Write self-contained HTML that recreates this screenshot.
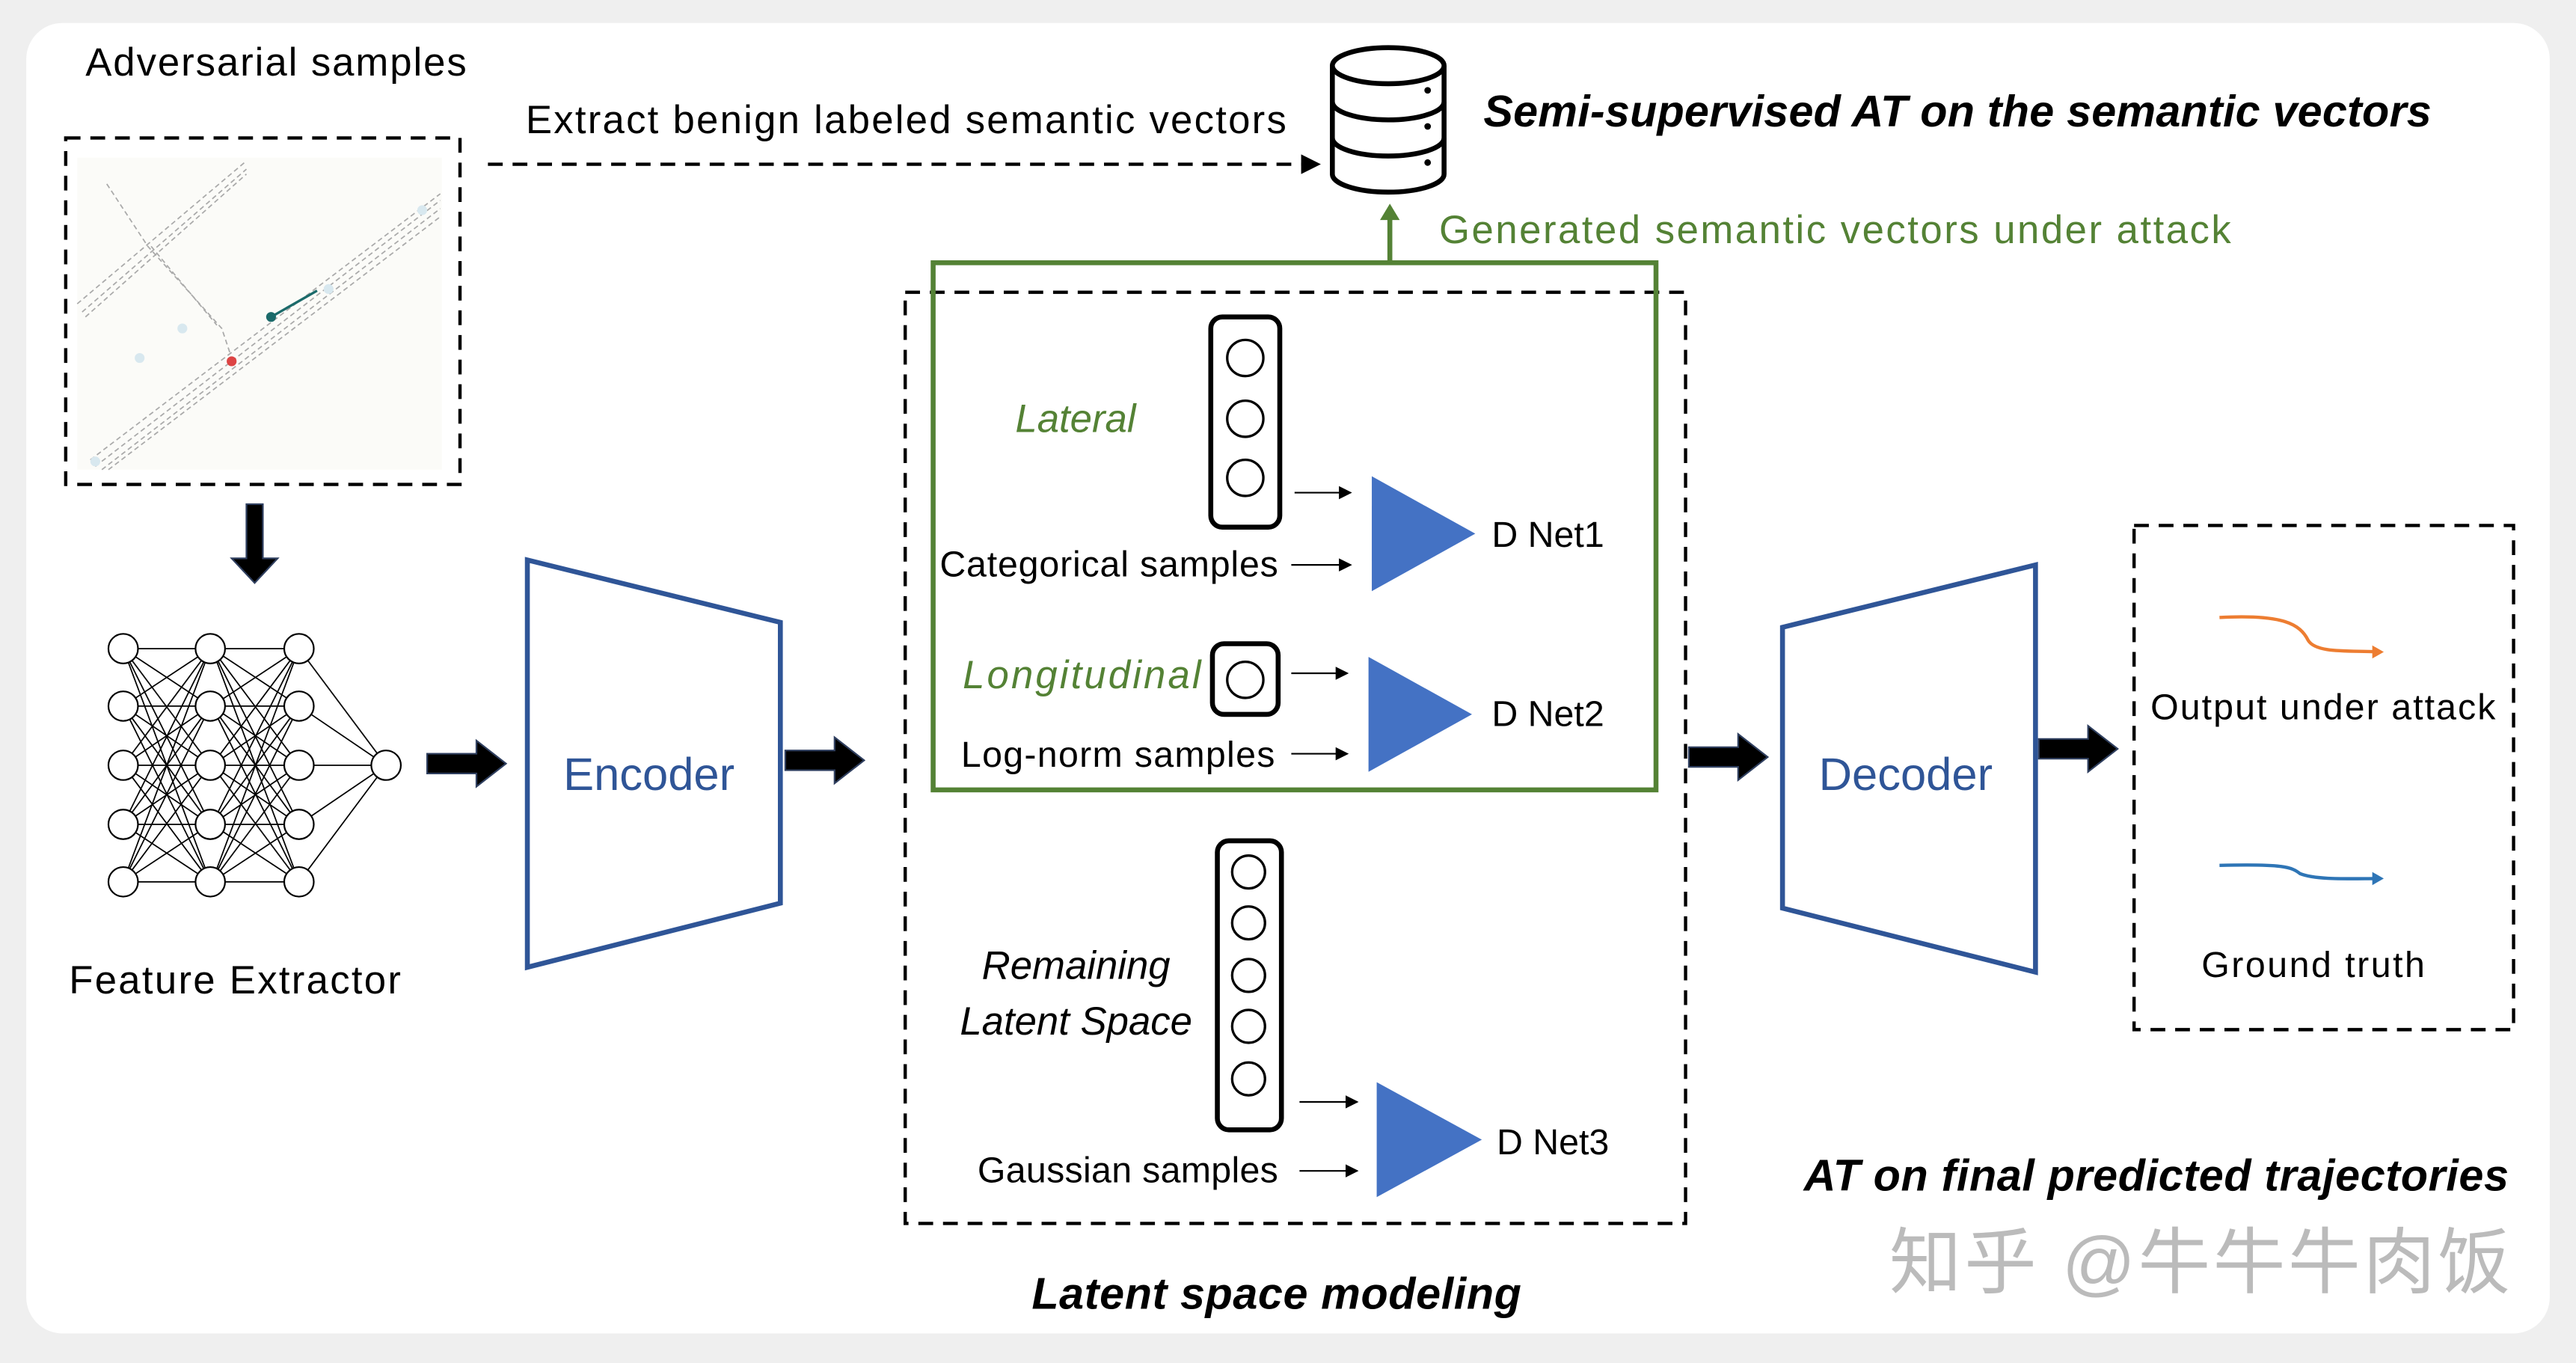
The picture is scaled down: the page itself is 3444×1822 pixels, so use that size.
<!DOCTYPE html>
<html><head><meta charset="utf-8"><style>
html,body{margin:0;padding:0;background:#efefef;}
svg{display:block;}
text{font-family:"Liberation Sans","Noto Sans CJK SC",sans-serif;}
</style></head><body>
<svg width="3444" height="1822" viewBox="0 0 1568 830" preserveAspectRatio="none" xmlns="http://www.w3.org/2000/svg">
<defs>
<marker id="ah" markerWidth="8" markerHeight="8" refX="7" refY="4" orient="auto" markerUnits="userSpaceOnUse"><path d="M0,0 L8,4 L0,8 Z" fill="#000"/></marker>
<marker id="ahb" markerWidth="12" markerHeight="12" refX="11" refY="6" orient="auto" markerUnits="userSpaceOnUse"><path d="M0,0 L12,6 L0,12 Z" fill="#000"/></marker>
</defs>
<rect x="0" y="0" width="1568" height="830" fill="#efefef"/>
<rect x="16" y="14" width="1536" height="798" rx="22" fill="#fff"/>

<text x="52" y="46" font-size="24" textLength="232">Adversarial samples</text>
<rect x="40" y="84" width="240" height="211" fill="none" stroke="#000" stroke-width="2" stroke-dasharray="9,6"/>
<rect x="47" y="96" width="222" height="190" fill="#fbfbf8"/>
<g stroke="#aaa" stroke-width="0.8" fill="none" stroke-dasharray="3,2">
<path d="M47,185 L150,98"/><path d="M50,190 L150,103"/><path d="M52,193 L150,106"/>
<path d="M55,280 L268,118"/><path d="M58,284 L268,122"/><path d="M62,286 L268,127"/><path d="M66,286 L268,132"/>
<path d="M65,112 L90,150 L135,200 L140,215"/><path d="M92,150 L132,198"/>
</g>
<line x1="165" y1="193" x2="193" y2="177" stroke="#1b6a6a" stroke-width="1.5"/>
<circle cx="165" cy="193" r="3" fill="#1b6a6a"/>
<circle cx="141" cy="220" r="3" fill="#d44"/>
<g fill="#d8e8ef"><circle cx="85" cy="218" r="3"/><circle cx="111" cy="200" r="3"/><circle cx="200" cy="176" r="3"/><circle cx="257" cy="128" r="3"/><circle cx="58" cy="281" r="3"/></g>

<path d="M150,307 L160,307 L160,340 L169,340 L155,355 L141,340 L150,340 Z" fill="#000" stroke="#2f3f5f"/>

<g stroke="#000" stroke-width="0.8">
<g id="c1">
<line x1="75" y1="395" x2="128" y2="395"/><line x1="75" y1="395" x2="128" y2="430"/><line x1="75" y1="395" x2="128" y2="466"/><line x1="75" y1="395" x2="128" y2="502"/><line x1="75" y1="395" x2="128" y2="537"/>
<line x1="75" y1="430" x2="128" y2="395"/><line x1="75" y1="430" x2="128" y2="430"/><line x1="75" y1="430" x2="128" y2="466"/><line x1="75" y1="430" x2="128" y2="502"/><line x1="75" y1="430" x2="128" y2="537"/>
<line x1="75" y1="466" x2="128" y2="395"/><line x1="75" y1="466" x2="128" y2="430"/><line x1="75" y1="466" x2="128" y2="466"/><line x1="75" y1="466" x2="128" y2="502"/><line x1="75" y1="466" x2="128" y2="537"/>
<line x1="75" y1="502" x2="128" y2="395"/><line x1="75" y1="502" x2="128" y2="430"/><line x1="75" y1="502" x2="128" y2="466"/><line x1="75" y1="502" x2="128" y2="502"/><line x1="75" y1="502" x2="128" y2="537"/>
<line x1="75" y1="537" x2="128" y2="395"/><line x1="75" y1="537" x2="128" y2="430"/><line x1="75" y1="537" x2="128" y2="466"/><line x1="75" y1="537" x2="128" y2="502"/><line x1="75" y1="537" x2="128" y2="537"/>
</g>
<use href="#c1" transform="translate(54,0)"/>
<line x1="182" y1="395" x2="235" y2="466"/><line x1="182" y1="430" x2="235" y2="466"/><line x1="182" y1="466" x2="235" y2="466"/><line x1="182" y1="502" x2="235" y2="466"/><line x1="182" y1="537" x2="235" y2="466"/>
</g>
<g fill="#fff" stroke="#000" stroke-width="1">
<circle cx="75" cy="395" r="9"/><circle cx="75" cy="430" r="9"/><circle cx="75" cy="466" r="9"/><circle cx="75" cy="502" r="9"/><circle cx="75" cy="537" r="9"/>
<circle cx="128" cy="395" r="9"/><circle cx="128" cy="430" r="9"/><circle cx="128" cy="466" r="9"/><circle cx="128" cy="502" r="9"/><circle cx="128" cy="537" r="9"/>
<circle cx="182" cy="395" r="9"/><circle cx="182" cy="430" r="9"/><circle cx="182" cy="466" r="9"/><circle cx="182" cy="502" r="9"/><circle cx="182" cy="537" r="9"/>
<circle cx="235" cy="466" r="9"/>
</g>
<text x="42" y="605" font-size="24" textLength="202">Feature Extractor</text>

<g fill="#000" stroke="#2f3f5f">
<path d="M260,459 L290,459 L290,451 L308,465 L290,479 L290,471 L260,471 Z"/>
<path d="M478,457 L508,457 L508,449 L526,463 L508,477 L508,469 L478,469 Z"/>
<path d="M1028,455 L1058,455 L1058,447 L1076,461 L1058,475 L1058,467 L1028,467 Z"/>
<path d="M1241,450 L1271,450 L1271,442 L1289,456 L1271,470 L1271,462 L1241,462 Z"/>
</g>

<path d="M321,341 L475,379 L475,550 L321,589 Z" fill="none" stroke="#2f5597" stroke-width="3"/>
<text x="395" y="481" font-size="28" fill="#2f5597" text-anchor="middle">Encoder</text>
<path d="M1085,382 L1239,344 L1239,592 L1085,553 Z" fill="none" stroke="#2f5597" stroke-width="3"/>
<text x="1160" y="481" font-size="28" fill="#2f5597" text-anchor="middle">Decoder</text>

<text x="320" y="81" font-size="24" textLength="463">Extract benign labeled semantic vectors</text>
<line x1="297" y1="100" x2="803" y2="100" stroke="#000" stroke-width="2" stroke-dasharray="9,6" marker-end="url(#ahb)"/>

<g fill="#fff" stroke="#000" stroke-width="3">
<path d="M811,40 L811,106 A34,11 0 0 0 879,106 L879,40"/>
<ellipse cx="845" cy="40" rx="34" ry="11"/>
<path d="M811,62 A34,11 0 0 0 879,62" fill="none"/>
<path d="M811,84 A34,11 0 0 0 879,84" fill="none"/>
</g>
<g fill="#000"><circle cx="869" cy="55" r="2"/><circle cx="869" cy="77" r="2"/><circle cx="869" cy="99" r="2"/></g>
<text x="903" y="77" font-size="27" font-weight="bold" font-style="italic" textLength="577">Semi-supervised AT on the semantic vectors</text>

<rect x="551" y="178" width="475" height="567" fill="none" stroke="#000" stroke-width="2" stroke-dasharray="9,6"/>
<rect x="568" y="160" width="440" height="321" fill="none" stroke="#548235" stroke-width="3"/>
<line x1="846" y1="160" x2="846" y2="133" stroke="#548235" stroke-width="3"/>
<path d="M840,134 L846,124 L852,134 Z" fill="#548235"/>
<text x="876" y="148" font-size="24" fill="#548235" textLength="482">Generated semantic vectors under attack</text>

<text x="618" y="263" font-size="24" font-style="italic" fill="#548235">Lateral</text>
<rect x="737" y="193" width="42" height="128" rx="7" fill="none" stroke="#000" stroke-width="3"/>
<g fill="none" stroke="#000" stroke-width="1.5"><circle cx="758" cy="218" r="11"/><circle cx="758" cy="255" r="11"/><circle cx="758" cy="291" r="11"/></g>
<line x1="788" y1="300" x2="822" y2="300" stroke="#000" marker-end="url(#ah)"/>
<text x="572" y="351" font-size="22" textLength="206">Categorical samples</text>
<line x1="786" y1="344" x2="822" y2="344" stroke="#000" marker-end="url(#ah)"/>
<path d="M835,290 L835,360 L898,325 Z" fill="#4472c4"/>
<text x="908" y="333" font-size="22">D Net1</text>

<text x="586" y="419" font-size="24" font-style="italic" fill="#548235" textLength="145">Longitudinal</text>
<rect x="738" y="392" width="40" height="43" rx="7" fill="none" stroke="#000" stroke-width="3"/>
<circle cx="758" cy="414" r="11" fill="none" stroke="#000" stroke-width="1.5"/>
<line x1="786" y1="410" x2="820" y2="410" stroke="#000" marker-end="url(#ah)"/>
<text x="585" y="467" font-size="22" textLength="191">Log-norm samples</text>
<line x1="786" y1="459" x2="820" y2="459" stroke="#000" marker-end="url(#ah)"/>
<path d="M833,400 L833,470 L896,435 Z" fill="#4472c4"/>
<text x="908" y="442" font-size="22">D Net2</text>

<text x="655" y="596" font-size="24" font-style="italic" text-anchor="middle">Remaining</text>
<text x="655" y="630" font-size="24" font-style="italic" text-anchor="middle">Latent Space</text>
<rect x="741" y="512" width="39" height="176" rx="7" fill="none" stroke="#000" stroke-width="3"/>
<g fill="none" stroke="#000" stroke-width="1.5"><circle cx="760" cy="531" r="10"/><circle cx="760" cy="562" r="10"/><circle cx="760" cy="594" r="10"/><circle cx="760" cy="625" r="10"/><circle cx="760" cy="657" r="10"/></g>
<line x1="791" y1="671" x2="826" y2="671" stroke="#000" marker-end="url(#ah)"/>
<text x="595" y="720" font-size="22" textLength="183">Gaussian samples</text>
<line x1="791" y1="713" x2="826" y2="713" stroke="#000" marker-end="url(#ah)"/>
<path d="M838,659 L838,729 L902,694 Z" fill="#4472c4"/>
<text x="911" y="703" font-size="22">D Net3</text>

<text x="777" y="797" font-size="27" font-weight="bold" font-style="italic" text-anchor="middle" textLength="298">Latent space modeling</text>

<rect x="1299" y="320" width="231" height="307" fill="none" stroke="#000" stroke-width="2" stroke-dasharray="9,6"/>
<path d="M1351,376 C1390,374 1400,380 1405,390 C1410,398 1430,396 1449,397" fill="none" stroke="#ed7d31" stroke-width="2"/>
<path d="M1444,393 L1451,397 L1444,401 Z" fill="#ed7d31"/>
<text x="1309" y="438" font-size="22" textLength="210">Output under attack</text>
<path d="M1351,527 C1390,526 1395,528 1400,532 C1410,536 1430,535 1449,535" fill="none" stroke="#2e75b6" stroke-width="2"/>
<path d="M1444,531 L1451,535 L1444,539 Z" fill="#2e75b6"/>
<text x="1340" y="595" font-size="22" textLength="136">Ground truth</text>

<text x="1098" y="725" font-size="27" font-weight="bold" font-style="italic" textLength="429">AT on final predicted trajectories</text>
<text x="1150" y="784" font-size="44" fill="#bbb" textLength="378">知乎 @牛牛牛肉饭</text>
</svg>
</body></html>
